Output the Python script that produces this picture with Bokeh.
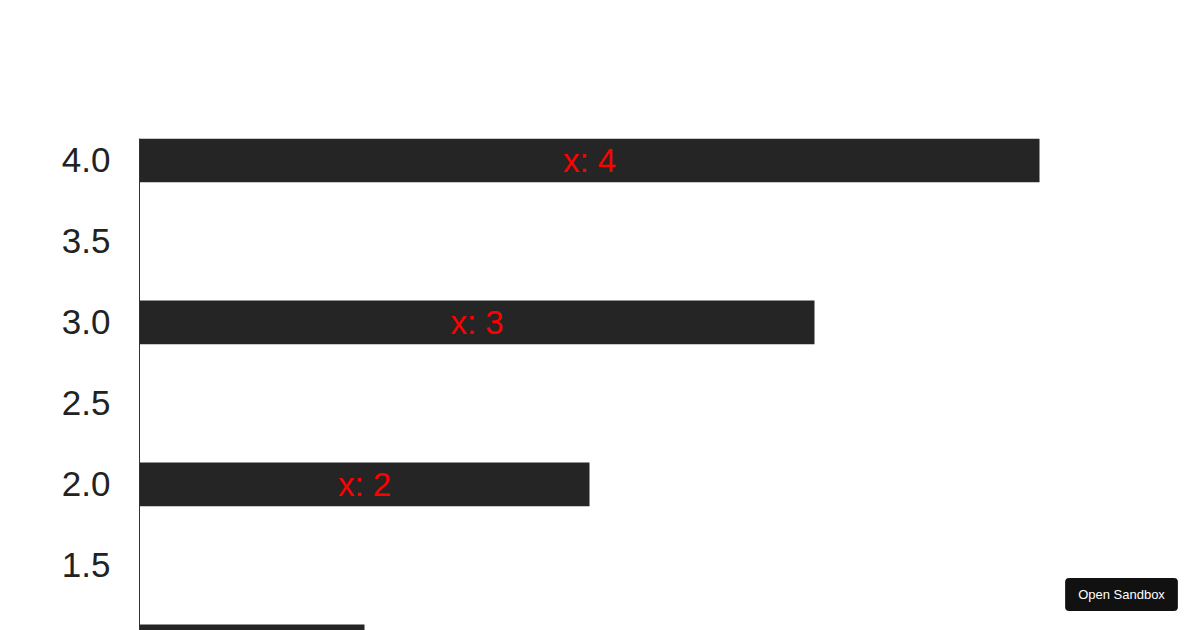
from bokeh.plotting import figure
from bokeh.models import ColumnDataSource, FixedTicker, NumeralTickFormatter, Range1d, Label
from bokeh.core.properties import value
from bokeh.embed import file_html
from bokeh.resources import INLINE

# data
categories = [1, 2, 3, 4]
values = [1, 2, 3, 4]
bar_labels = ["x: %d" % v for v in values]
y_ticks = [1.5, 2.0, 2.5, 3.0, 3.5, 4.0]

src = ColumnDataSource(dict(
    y=categories,
    right=values,
    mid=[v / 2 for v in values],
    label=bar_labels,
))

p = figure(width=1192, height=630, output_backend="svg", toolbar_location=None,
           x_range=Range1d(0, 4.68), y_range=Range1d(1.098, 4.135),
           x_axis_location=None,
           min_border_left=139, min_border_top=138, min_border_bottom=0, min_border_right=0)

p.hbar(y="y", left=0, right="right", height=0.27, source=src,
       fill_color="#252525", line_color=None)
p.text(x="mid", y="y", text="label", source=src, text_color="#ff0000",
       text_font=value("Liberation Sans"), text_font_size="33px",
       text_align="center", text_baseline="middle", y_offset=0)

p.yaxis.ticker = FixedTicker(ticks=y_ticks)
p.yaxis.formatter = NumeralTickFormatter(format="0.0")
p.yaxis.major_tick_line_color = None
p.yaxis.minor_tick_line_color = None
p.yaxis.axis_line_color = "#333333"
p.yaxis.major_label_text_font = "Liberation Sans"
p.yaxis.major_label_text_font_size = "35px"
p.yaxis.major_label_text_color = "#222222"
p.yaxis.major_label_standoff = 23
p.xgrid.visible = False
p.ygrid.visible = False
p.outline_line_color = None
p.background_fill_color = "white"
p.border_fill_color = "white"

btn = Label(x=982, y=36, x_units="screen", y_units="screen", text="Open Sandbox",
            text_color="white", text_font="Liberation Sans", text_font_size="13px",
            text_align="center", text_baseline="middle",
            background_fill_color="#111111",
            padding=dict(left=13, right=13, top=9, bottom=9), border_radius=4)
p.add_layout(btn)

open("out.html", "w").write(file_html(p, INLINE))
